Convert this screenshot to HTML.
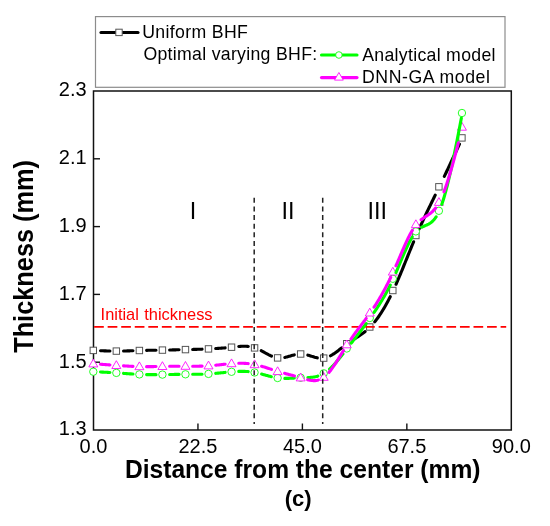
<!DOCTYPE html>
<html><head><meta charset="utf-8"><title>Thickness chart</title>
<style>html,body{margin:0;padding:0;background:#fff;}body{width:550px;height:526px;overflow:hidden;}svg{display:block;}</style>
</head><body>
<svg width="550" height="526" viewBox="0 0 550 526" font-family='"Liberation Sans", Arial, sans-serif'><rect x="95.5" y="16.6" width="409.5" height="70.7" fill="#fff" stroke="#8c8c8c" stroke-width="1.2"/>
<path d="M101,32.5 L138,32.5" stroke="#000" stroke-width="3.1" stroke-linecap="round"/>
<rect x="115.80" y="29.20" width="6.4" height="6.4" fill="#fff" stroke="#555" stroke-width="1"/>
<text x="142.2" y="37.7" font-size="17.7" letter-spacing="0.35" fill="#000">Uniform BHF</text>
<text x="143.4" y="60.4" font-size="17.7" letter-spacing="0.3" fill="#000">Optimal varying BHF:</text>
<path d="M321.5,55 L357,55" stroke="#00ff00" stroke-width="3.1" stroke-linecap="round"/>
<circle cx="338.90" cy="55.00" r="3.3" fill="#fff" stroke="#00ff00" stroke-width="0.85"/>
<text x="362.2" y="60.6" font-size="17.7" letter-spacing="0.3" fill="#000">Analytical model</text>
<path d="M321.5,77.6 L357,77.6" stroke="#ff00ff" stroke-width="3.1" stroke-linecap="round"/>
<path d="M338.90,72.50 L343.30,80.10 L334.50,80.10 Z" fill="#fff" stroke="#ff00ff" stroke-width="0.85" stroke-linejoin="miter"/>
<text x="362.0" y="82.9" font-size="17.7" letter-spacing="0.55" fill="#000">DNN-GA model</text>
<rect x="93.5" y="91.0" width="417.80" height="339.00" fill="none" stroke="#111" stroke-width="1.5"/>
<path d="M93.5,158.80 L100.0,158.80" stroke="#111" stroke-width="1.4"/>
<path d="M93.5,226.60 L100.0,226.60" stroke="#111" stroke-width="1.4"/>
<path d="M93.5,294.40 L100.0,294.40" stroke="#111" stroke-width="1.4"/>
<path d="M93.5,362.20 L100.0,362.20" stroke="#111" stroke-width="1.4"/>
<path d="M197.95,430.0 L197.95,423.5" stroke="#111" stroke-width="1.4"/>
<path d="M302.40,430.0 L302.40,423.5" stroke="#111" stroke-width="1.4"/>
<path d="M406.85,430.0 L406.85,423.5" stroke="#111" stroke-width="1.4"/>
<text x="100.6" y="319.6" font-size="16.4" word-spacing="0.8" fill="#ff0000">Initial thickness</text>
<path d="M100.51,350.71 L101.21,350.73 101.90,350.76 102.59,350.79 103.29,350.82 103.98,350.84 104.67,350.87 105.36,350.89 106.06,350.91 106.75,350.94 107.44,350.96 108.14,350.98 108.83,351.00 109.52,351.01 109.93,351.02 M123.55,351.01 L124.25,350.99 124.94,350.97 125.63,350.96 126.33,350.94 127.02,350.92 127.71,350.89 128.40,350.87 129.10,350.85 129.79,350.83 130.48,350.80 131.18,350.78 131.87,350.76 132.56,350.73 132.97,350.72 M146.59,350.34 L147.29,350.33 147.98,350.32 148.67,350.31 149.37,350.30 150.06,350.28 150.75,350.27 151.44,350.26 152.14,350.25 152.83,350.24 153.52,350.23 154.22,350.22 154.91,350.21 155.60,350.21 156.01,350.20 M169.63,349.97 L170.33,349.96 171.02,349.94 171.71,349.93 172.41,349.91 173.10,349.90 173.79,349.88 174.48,349.87 175.18,349.85 175.87,349.84 176.56,349.82 177.26,349.80 177.95,349.79 178.64,349.77 179.05,349.76 M192.67,349.44 L193.37,349.42 194.06,349.40 194.75,349.38 195.45,349.36 196.14,349.35 196.83,349.33 197.52,349.31 198.22,349.29 198.91,349.27 199.60,349.25 200.30,349.22 200.99,349.20 201.68,349.18 202.09,349.17 M215.71,348.54 L216.41,348.50 217.10,348.46 217.79,348.41 218.49,348.37 219.18,348.32 219.87,348.27 220.56,348.22 221.26,348.17 221.95,348.12 222.64,348.07 223.34,348.01 224.03,347.95 224.72,347.90 225.13,347.86 M238.75,346.49 L239.45,346.43 240.14,346.38 240.83,346.33 241.53,346.30 242.22,346.27 242.91,346.24 243.60,346.23 244.30,346.23 244.99,346.24 245.68,346.25 246.38,346.28 247.07,346.33 247.76,346.38 248.28,346.43 M261.22,350.73 L261.91,351.10 262.60,351.47 263.30,351.85 263.99,352.23 264.68,352.61 265.37,352.99 266.07,353.36 266.76,353.74 267.45,354.10 268.15,354.46 268.84,354.82 269.53,355.16 270.22,355.49 270.92,355.80 271.44,356.03 M284.83,357.41 L285.53,357.26 286.22,357.09 286.91,356.92 287.61,356.74 288.30,356.55 288.99,356.35 289.68,356.16 290.38,355.96 291.07,355.76 291.76,355.56 292.46,355.37 293.15,355.18 293.84,355.01 294.30,354.89 M307.82,355.14 L308.51,355.34 309.20,355.54 309.89,355.75 310.59,355.96 311.28,356.17 311.97,356.39 312.67,356.60 313.36,356.80 314.05,357.00 314.75,357.20 315.44,357.38 316.13,357.55 316.82,357.71 317.29,357.81 M330.51,355.76 L331.20,355.38 331.90,354.97 332.59,354.55 333.28,354.11 333.97,353.65 334.67,353.18 335.36,352.69 336.05,352.19 336.75,351.68 337.44,351.16 338.13,350.64 338.82,350.10 339.52,349.56 340.21,349.02 340.90,348.48 341.60,347.93 341.71,347.84 M352.80,339.93 L353.49,339.49 354.18,339.05 354.88,338.62 355.57,338.18 356.26,337.75 356.96,337.31 357.65,336.86 358.34,336.42 359.04,335.96 359.73,335.50 360.42,335.04 361.11,334.56 361.81,334.07 362.50,333.57 363.19,333.06 363.89,332.54 364.58,332.00 365.10,331.59 M374.74,321.84 L375.43,320.97 376.13,320.07 376.82,319.15 377.51,318.21 378.21,317.24 378.90,316.25 379.59,315.23 380.29,314.19 380.98,313.13 381.67,312.04 382.36,310.93 383.06,309.80 383.75,308.64 384.44,307.46 385.14,306.26 385.83,305.03 386.52,303.78 387.21,302.51 387.91,301.21 388.60,299.89 389.29,298.55 389.99,297.18 390.22,296.72 M396.05,284.26 L396.74,282.68 397.44,281.09 398.13,279.47 398.82,277.85 399.51,276.21 400.21,274.56 400.90,272.90 401.59,271.22 402.29,269.54 402.98,267.85 403.67,266.15 404.36,264.45 405.06,262.74 405.75,261.03 406.44,259.32 407.14,257.61 407.83,255.89 408.52,254.18 409.22,252.47 409.91,250.77 410.60,249.07 411.29,247.37 411.99,245.68 412.68,244.00 413.37,242.33 413.60,241.78 M419.03,229.17 L419.72,227.62 420.42,226.09 421.11,224.56 421.80,223.05 422.50,221.54 423.19,220.05 423.88,218.57 424.58,217.10 425.27,215.63 425.96,214.17 426.65,212.72 427.35,211.28 428.04,209.84 428.73,208.40 429.43,206.98 430.12,205.55 430.81,204.13 431.50,202.71 432.20,201.30 432.89,199.89 433.58,198.47 434.28,197.06 434.97,195.65 435.20,195.18 M444.32,176.37 L445.02,174.91 445.71,173.46 446.40,172.00 447.10,170.54 447.79,169.07 448.48,167.60 449.17,166.13 449.87,164.66 450.56,163.19 451.25,161.71 451.95,160.23 452.64,158.75 453.33,157.27 454.02,155.79 454.72,154.30 455.41,152.81 456.10,151.33 456.80,149.84 457.49,148.35 458.18,146.86 458.88,145.36 459.45,144.12" fill="none" stroke="#000" stroke-width="3.1" stroke-linecap="round" stroke-linejoin="round"/>
<rect x="90.10" y="347.20" width="6.4" height="6.4" fill="#fff" stroke="#555" stroke-width="1"/><rect x="113.14" y="347.90" width="6.4" height="6.4" fill="#fff" stroke="#555" stroke-width="1"/><rect x="136.18" y="347.30" width="6.4" height="6.4" fill="#fff" stroke="#555" stroke-width="1"/><rect x="159.22" y="346.90" width="6.4" height="6.4" fill="#fff" stroke="#555" stroke-width="1"/><rect x="182.26" y="346.40" width="6.4" height="6.4" fill="#fff" stroke="#555" stroke-width="1"/><rect x="205.30" y="345.70" width="6.4" height="6.4" fill="#fff" stroke="#555" stroke-width="1"/><rect x="228.34" y="344.00" width="6.4" height="6.4" fill="#fff" stroke="#555" stroke-width="1"/><rect x="251.38" y="344.70" width="6.4" height="6.4" fill="#fff" stroke="#555" stroke-width="1"/><rect x="274.42" y="354.70" width="6.4" height="6.4" fill="#fff" stroke="#555" stroke-width="1"/><rect x="297.46" y="350.80" width="6.4" height="6.4" fill="#fff" stroke="#555" stroke-width="1"/><rect x="320.50" y="354.90" width="6.4" height="6.4" fill="#fff" stroke="#555" stroke-width="1"/><rect x="343.54" y="340.50" width="6.4" height="6.4" fill="#fff" stroke="#555" stroke-width="1"/><rect x="366.58" y="323.80" width="6.4" height="6.4" fill="#fff" stroke="#555" stroke-width="1"/><rect x="389.62" y="287.30" width="6.4" height="6.4" fill="#fff" stroke="#555" stroke-width="1"/><rect x="412.66" y="232.30" width="6.4" height="6.4" fill="#fff" stroke="#555" stroke-width="1"/><rect x="435.70" y="183.60" width="6.4" height="6.4" fill="#fff" stroke="#555" stroke-width="1"/><rect x="458.74" y="134.70" width="6.4" height="6.4" fill="#fff" stroke="#555" stroke-width="1"/>
<path d="M94.1,326.9 L506.2,326.9" stroke="#ff0000" stroke-width="1.6" stroke-dasharray="9.7 3.85"/>
<circle cx="93.30" cy="371.70" r="3.7" fill="#fff" stroke="#00ff00" stroke-width="0.85"/><circle cx="116.34" cy="372.90" r="3.7" fill="#fff" stroke="#00ff00" stroke-width="0.85"/><circle cx="139.38" cy="374.40" r="3.7" fill="#fff" stroke="#00ff00" stroke-width="0.85"/><circle cx="162.42" cy="374.60" r="3.7" fill="#fff" stroke="#00ff00" stroke-width="0.85"/><circle cx="185.46" cy="374.30" r="3.7" fill="#fff" stroke="#00ff00" stroke-width="0.85"/><circle cx="208.50" cy="373.90" r="3.7" fill="#fff" stroke="#00ff00" stroke-width="0.85"/><circle cx="231.54" cy="371.80" r="3.7" fill="#fff" stroke="#00ff00" stroke-width="0.85"/><circle cx="254.58" cy="372.50" r="3.7" fill="#fff" stroke="#00ff00" stroke-width="0.85"/><circle cx="277.62" cy="378.00" r="3.7" fill="#fff" stroke="#00ff00" stroke-width="0.85"/><circle cx="300.66" cy="377.70" r="3.7" fill="#fff" stroke="#00ff00" stroke-width="0.85"/><circle cx="323.70" cy="373.30" r="3.7" fill="#fff" stroke="#00ff00" stroke-width="0.85"/><circle cx="346.74" cy="348.50" r="3.7" fill="#fff" stroke="#00ff00" stroke-width="0.85"/><circle cx="369.78" cy="318.00" r="3.7" fill="#fff" stroke="#00ff00" stroke-width="0.85"/><circle cx="392.82" cy="278.80" r="3.7" fill="#fff" stroke="#00ff00" stroke-width="0.85"/><circle cx="415.86" cy="231.40" r="3.7" fill="#fff" stroke="#00ff00" stroke-width="0.85"/><circle cx="438.90" cy="210.80" r="3.7" fill="#fff" stroke="#00ff00" stroke-width="0.85"/><circle cx="461.94" cy="113.00" r="3.7" fill="#fff" stroke="#00ff00" stroke-width="0.85"/>
<path d="M93.30,359.10 L97.80,366.90 L88.80,366.90 Z" fill="#fff" stroke="#ff00ff" stroke-width="0.85" stroke-linejoin="miter"/><path d="M116.34,360.70 L120.84,368.50 L111.84,368.50 Z" fill="#fff" stroke="#ff00ff" stroke-width="0.85" stroke-linejoin="miter"/><path d="M139.38,361.90 L143.88,369.70 L134.88,369.70 Z" fill="#fff" stroke="#ff00ff" stroke-width="0.85" stroke-linejoin="miter"/><path d="M162.42,361.70 L166.92,369.50 L157.92,369.50 Z" fill="#fff" stroke="#ff00ff" stroke-width="0.85" stroke-linejoin="miter"/><path d="M185.46,361.50 L189.96,369.30 L180.96,369.30 Z" fill="#fff" stroke="#ff00ff" stroke-width="0.85" stroke-linejoin="miter"/><path d="M208.50,361.10 L213.00,368.90 L204.00,368.90 Z" fill="#fff" stroke="#ff00ff" stroke-width="0.85" stroke-linejoin="miter"/><path d="M231.54,358.90 L236.04,366.70 L227.04,366.70 Z" fill="#fff" stroke="#ff00ff" stroke-width="0.85" stroke-linejoin="miter"/><path d="M254.58,359.90 L259.08,367.70 L250.08,367.70 Z" fill="#fff" stroke="#ff00ff" stroke-width="0.85" stroke-linejoin="miter"/><path d="M277.62,366.80 L282.12,374.60 L273.12,374.60 Z" fill="#fff" stroke="#ff00ff" stroke-width="0.85" stroke-linejoin="miter"/><path d="M300.66,373.10 L305.16,380.90 L296.16,380.90 Z" fill="#fff" stroke="#ff00ff" stroke-width="0.85" stroke-linejoin="miter"/><path d="M323.70,372.50 L328.20,380.30 L319.20,380.30 Z" fill="#fff" stroke="#ff00ff" stroke-width="0.85" stroke-linejoin="miter"/><path d="M346.74,340.00 L351.24,347.80 L342.24,347.80 Z" fill="#fff" stroke="#ff00ff" stroke-width="0.85" stroke-linejoin="miter"/><path d="M369.78,308.20 L374.28,316.00 L365.28,316.00 Z" fill="#fff" stroke="#ff00ff" stroke-width="0.85" stroke-linejoin="miter"/><path d="M392.82,267.30 L397.32,275.10 L388.32,275.10 Z" fill="#fff" stroke="#ff00ff" stroke-width="0.85" stroke-linejoin="miter"/><path d="M415.86,219.80 L420.36,227.60 L411.36,227.60 Z" fill="#fff" stroke="#ff00ff" stroke-width="0.85" stroke-linejoin="miter"/><path d="M438.90,197.60 L443.40,205.40 L434.40,205.40 Z" fill="#fff" stroke="#ff00ff" stroke-width="0.85" stroke-linejoin="miter"/><path d="M461.94,122.40 L466.44,130.20 L457.44,130.20 Z" fill="#fff" stroke="#ff00ff" stroke-width="0.85" stroke-linejoin="miter"/>
<path d="M100.51,372.01 L101.21,372.04 101.90,372.08 102.59,372.11 103.29,372.14 103.98,372.18 104.67,372.21 105.36,372.25 106.06,372.28 106.75,372.32 107.44,372.35 108.14,372.39 108.83,372.43 109.52,372.47 109.93,372.49 M123.55,373.38 L124.25,373.43 124.94,373.48 125.63,373.53 126.33,373.58 127.02,373.63 127.71,373.68 128.40,373.73 129.10,373.78 129.79,373.83 130.48,373.87 131.18,373.92 131.87,373.97 132.56,374.01 132.97,374.04 M146.59,374.60 L147.29,374.61 147.98,374.62 148.67,374.63 149.37,374.64 150.06,374.65 150.75,374.65 151.44,374.66 152.14,374.66 152.83,374.66 153.52,374.66 154.22,374.66 154.91,374.66 155.60,374.66 156.01,374.66 M169.63,374.50 L170.33,374.49 171.02,374.48 171.71,374.47 172.41,374.46 173.10,374.45 173.79,374.43 174.48,374.42 175.18,374.41 175.87,374.40 176.56,374.39 177.26,374.38 177.95,374.37 178.64,374.37 179.05,374.36 M192.67,374.29 L193.37,374.29 194.06,374.28 194.75,374.28 195.45,374.28 196.14,374.27 196.83,374.27 197.52,374.26 198.22,374.25 198.91,374.24 199.60,374.23 200.30,374.22 200.99,374.21 201.68,374.19 202.09,374.18 M215.71,373.36 L216.41,373.30 217.10,373.23 217.79,373.16 218.49,373.09 219.18,373.02 219.87,372.95 220.56,372.88 221.26,372.81 221.95,372.74 222.64,372.67 223.34,372.60 224.03,372.53 224.72,372.46 225.13,372.42 M238.75,371.42 L239.45,371.40 240.14,371.38 240.83,371.37 241.53,371.37 242.22,371.37 242.91,371.38 243.60,371.39 244.30,371.40 244.99,371.42 245.68,371.45 246.38,371.49 247.07,371.53 247.76,371.57 248.22,371.61 M261.62,374.07 L262.31,374.25 263.01,374.44 263.70,374.64 264.39,374.83 265.09,375.02 265.78,375.22 266.47,375.41 267.16,375.60 267.86,375.79 268.55,375.98 269.24,376.17 269.94,376.35 270.63,376.53 271.32,376.70 M284.83,378.42 L285.53,378.42 286.22,378.41 286.91,378.40 287.61,378.38 288.30,378.36 288.99,378.34 289.68,378.31 290.38,378.27 291.07,378.24 291.76,378.20 292.46,378.16 293.15,378.12 293.84,378.08 294.25,378.05 M307.87,377.55 L308.57,377.52 309.26,377.48 309.95,377.44 310.65,377.39 311.34,377.33 312.03,377.26 312.72,377.18 313.42,377.08 314.11,376.97 314.80,376.85 315.50,376.71 316.19,376.56 316.88,376.38 317.57,376.19 317.86,376.11 M329.53,369.12 L330.22,368.49 330.91,367.82 331.61,367.14 332.30,366.44 332.99,365.73 333.69,364.99 334.38,364.24 335.07,363.47 335.76,362.69 336.46,361.89 337.15,361.08 337.84,360.26 338.54,359.43 339.23,358.58 339.92,357.73 340.61,356.87 341.31,356.00 342.00,355.12 342.69,354.24 342.92,353.95 M351.30,343.12 L351.99,342.22 352.68,341.32 353.38,340.42 354.07,339.52 354.76,338.62 355.46,337.72 356.15,336.82 356.84,335.92 357.53,335.01 358.23,334.10 358.92,333.19 359.61,332.28 360.31,331.37 361.00,330.45 361.69,329.53 362.38,328.61 363.08,327.69 363.77,326.76 364.46,325.83 365.16,324.89 365.85,323.96 366.14,323.56 M374.11,312.42 L374.80,311.41 375.49,310.39 376.19,309.36 376.88,308.32 377.57,307.26 378.26,306.20 378.96,305.12 379.65,304.03 380.34,302.92 381.04,301.80 381.73,300.66 382.42,299.50 383.11,298.33 383.81,297.14 384.50,295.93 385.19,294.70 385.89,293.45 386.58,292.18 387.27,290.89 387.97,289.57 388.66,288.23 389.35,286.87 390.04,285.49 390.28,285.02 M395.99,272.52 L396.68,270.90 397.38,269.27 398.07,267.63 398.76,265.98 399.46,264.33 400.15,262.67 400.84,261.02 401.54,259.38 402.23,257.74 402.92,256.12 403.61,254.51 404.31,252.92 405.00,251.35 405.69,249.80 406.39,248.28 407.08,246.79 407.77,245.34 408.46,243.92 409.16,242.54 409.85,241.20 410.54,239.91 411.24,238.67 411.93,237.47 412.22,236.99 M421.69,227.25 L422.38,226.91 423.07,226.58 423.77,226.27 424.46,225.97 425.15,225.68 425.85,225.38 426.54,225.07 427.23,224.75 427.92,224.41 428.62,224.05 429.31,223.65 430.00,223.22 430.70,222.74 431.39,222.21 432.08,221.63 432.77,220.99 433.47,220.27 434.16,219.49 434.85,218.63 435.55,217.68 436.12,216.82 M441.78,204.39 L442.48,202.35 443.17,200.19 443.86,197.94 444.55,195.58 445.25,193.13 445.94,190.59 446.63,187.96 447.33,185.25 448.02,182.46 448.71,179.58 449.41,176.64 450.10,173.63 450.79,170.55 451.48,167.41 452.18,164.21 452.87,160.96 453.56,157.66 454.26,154.31 454.95,150.91 455.64,147.48 456.33,144.01 457.03,140.51 457.72,136.98 458.41,133.43 459.11,129.85 459.80,126.26 460.49,122.65 461.19,119.04 461.36,118.13" fill="none" stroke="#00ff00" stroke-width="3.1" stroke-linecap="round" stroke-linejoin="round"/>
<path d="M100.51,364.28 L101.21,364.32 101.90,364.37 102.59,364.42 103.29,364.47 103.98,364.52 104.67,364.57 105.36,364.61 106.06,364.66 106.75,364.71 107.44,364.76 108.14,364.81 108.83,364.85 109.52,364.90 109.93,364.93 M123.55,365.86 L124.25,365.90 124.94,365.94 125.63,365.99 126.33,366.03 127.02,366.07 127.71,366.11 128.40,366.15 129.10,366.19 129.79,366.22 130.48,366.26 131.18,366.29 131.87,366.33 132.56,366.36 132.97,366.38 M146.59,366.65 L147.29,366.65 147.98,366.64 148.67,366.64 149.37,366.63 150.06,366.63 150.75,366.62 151.44,366.61 152.14,366.60 152.83,366.59 153.52,366.58 154.22,366.57 154.91,366.55 155.60,366.54 156.01,366.53 M169.63,366.29 L170.33,366.28 171.02,366.28 171.71,366.27 172.41,366.26 173.10,366.25 173.79,366.25 174.48,366.24 175.18,366.23 175.87,366.23 176.56,366.22 177.26,366.22 177.95,366.22 178.64,366.21 179.05,366.21 M192.67,366.22 L193.37,366.22 194.06,366.22 194.75,366.21 195.45,366.21 196.14,366.21 196.83,366.20 197.52,366.20 198.22,366.19 198.91,366.18 199.60,366.17 200.30,366.16 200.99,366.14 201.68,366.12 202.09,366.11 M215.71,365.21 L216.41,365.14 217.10,365.07 217.79,365.00 218.49,364.92 219.18,364.85 219.87,364.77 220.56,364.70 221.26,364.62 221.95,364.55 222.64,364.47 223.34,364.40 224.03,364.33 224.72,364.25 225.13,364.21 M238.75,363.28 L239.45,363.28 240.14,363.27 240.83,363.27 241.53,363.28 242.22,363.29 242.91,363.30 243.60,363.32 244.30,363.35 244.99,363.38 245.68,363.42 246.38,363.47 247.07,363.52 247.76,363.58 248.22,363.62 M261.62,366.24 L262.31,366.45 263.01,366.65 263.70,366.86 264.39,367.08 265.09,367.29 265.78,367.51 266.47,367.74 267.16,367.96 267.86,368.19 268.55,368.42 269.24,368.65 269.94,368.88 270.63,369.11 271.32,369.34 271.49,369.40 M284.60,373.37 L285.30,373.55 285.99,373.74 286.68,373.92 287.37,374.10 288.07,374.28 288.76,374.46 289.45,374.64 290.15,374.82 290.84,375.00 291.53,375.18 292.23,375.36 292.92,375.54 293.61,375.72 294.30,375.90 294.48,375.95 M307.64,379.72 L308.34,379.89 309.03,380.04 309.72,380.18 310.41,380.31 311.11,380.41 311.80,380.50 312.49,380.57 313.19,380.61 313.88,380.63 314.57,380.63 315.27,380.60 315.96,380.54 316.65,380.45 317.34,380.33 317.98,380.19 M328.95,372.41 L329.64,371.57 330.34,370.70 331.03,369.80 331.72,368.87 332.42,367.91 333.11,366.93 333.80,365.93 334.49,364.90 335.19,363.85 335.88,362.79 336.57,361.71 337.27,360.62 337.96,359.51 338.65,358.40 339.34,357.28 340.04,356.15 340.73,355.02 341.42,353.88 342.12,352.75 342.81,351.62 343.50,350.49 M350.95,339.03 L351.64,338.04 352.34,337.06 353.03,336.09 353.72,335.13 354.42,334.17 355.11,333.23 355.80,332.29 356.49,331.36 357.19,330.43 357.88,329.50 358.57,328.58 359.27,327.66 359.96,326.75 360.65,325.83 361.35,324.91 362.04,324.00 362.73,323.08 363.42,322.16 364.12,321.23 364.81,320.31 365.50,319.37 366.20,318.44 M374.05,307.19 L374.74,306.13 375.43,305.06 376.13,303.97 376.82,302.87 377.51,301.75 378.21,300.62 378.90,299.48 379.59,298.32 380.29,297.14 380.98,295.95 381.67,294.75 382.36,293.52 383.06,292.28 383.75,291.03 384.44,289.75 385.14,288.46 385.83,287.15 386.52,285.83 387.21,284.48 387.91,283.12 388.60,281.74 389.29,280.33 389.99,278.91 390.68,277.47 M395.99,265.73 L396.68,264.13 397.38,262.52 398.07,260.90 398.76,259.28 399.46,257.66 400.15,256.04 400.84,254.42 401.54,252.80 402.23,251.20 402.92,249.60 403.61,248.02 404.31,246.46 405.00,244.91 405.69,243.39 406.39,241.89 407.08,240.41 407.77,238.96 408.46,237.55 409.16,236.16 409.85,234.82 410.54,233.51 411.24,232.24 411.93,231.01 412.39,230.22 M421.11,219.69 L421.80,219.16 422.50,218.65 423.19,218.17 423.88,217.70 424.58,217.25 425.27,216.80 425.96,216.36 426.65,215.91 427.35,215.46 428.04,215.00 428.73,214.53 429.43,214.04 430.12,213.52 430.81,212.97 431.50,212.40 432.20,211.78 432.89,211.13 433.58,210.42 434.28,209.67 434.97,208.87 435.60,208.07 M443.98,191.71 L444.67,189.85 445.36,187.93 446.06,185.94 446.75,183.89 447.44,181.78 448.13,179.61 448.83,177.39 449.52,175.12 450.21,172.80 450.91,170.43 451.60,168.02 452.29,165.57 452.99,163.09 453.68,160.56 454.37,158.01 455.06,155.42 455.76,152.81 456.45,150.17 457.14,147.51 457.84,144.83 458.36,142.80" fill="none" stroke="#ff00ff" stroke-width="3.1" stroke-linecap="round" stroke-linejoin="round"/>
<path d="M254.2,197.8 L254.2,424" stroke="#222" stroke-width="1.5" stroke-dasharray="5 3.62"/>
<path d="M322.7,197.8 L322.7,424" stroke="#222" stroke-width="1.5" stroke-dasharray="5 3.62"/>
<text x="193.1" y="219" font-size="23.4" text-anchor="middle" fill="#000">I</text>
<text x="288" y="219" font-size="23.4" text-anchor="middle" fill="#000">II</text>
<text x="377.3" y="219" font-size="23.4" text-anchor="middle" fill="#000">III</text>
<text x="86.6" y="96.40" font-size="20" text-anchor="end" fill="#000">2.3</text>
<text x="86.6" y="164.20" font-size="20" text-anchor="end" fill="#000">2.1</text>
<text x="86.6" y="232.00" font-size="20" text-anchor="end" fill="#000">1.9</text>
<text x="86.6" y="299.80" font-size="20" text-anchor="end" fill="#000">1.7</text>
<text x="86.6" y="367.60" font-size="20" text-anchor="end" fill="#000">1.5</text>
<text x="86.6" y="435.40" font-size="20" text-anchor="end" fill="#000">1.3</text>
<text x="93.50" y="452.6" font-size="20" text-anchor="middle" fill="#000">0.0</text>
<text x="197.95" y="452.6" font-size="20" text-anchor="middle" fill="#000">22.5</text>
<text x="302.40" y="452.6" font-size="20" text-anchor="middle" fill="#000">45.0</text>
<text x="406.85" y="452.6" font-size="20" text-anchor="middle" fill="#000">67.5</text>
<text x="511.30" y="452.6" font-size="20" text-anchor="middle" fill="#000">90.0</text>
<text transform="translate(302.7,477.6) scale(0.947,1)" x="0" y="0" font-size="26" font-weight="bold" text-anchor="middle" fill="#000">Distance from the center (mm)</text>
<text transform="translate(32.6,256.4) rotate(-90) scale(0.939,1)" x="0" y="0" font-size="27" font-weight="bold" text-anchor="middle" fill="#000">Thickness (mm)</text>
<text x="298.2" y="506.2" font-size="22" font-weight="bold" text-anchor="middle" fill="#000">(c)</text></svg>
</body></html>
